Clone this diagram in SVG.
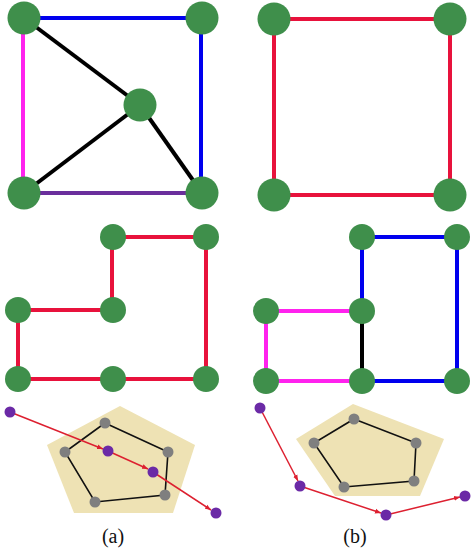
<svg xmlns="http://www.w3.org/2000/svg" width="474" height="548" viewBox="0 0 474 548">
<style>
.n{fill:#3f8f4b}
.e{stroke-width:4;fill:none}
.r{stroke:#e8123c}
.b{stroke:#0000ee}
.m{stroke:#ff22ee}
.k{stroke:#000}
.p{stroke:#6a2e9c}
.pent{fill:#eee2b4}
.poly{fill:none;stroke:#111;stroke-width:1.6}
.g{fill:#7f7f7f}
.v{fill:#6b2aa6}
.a{stroke:#dd2030;stroke-width:1.5;fill:none;marker-end:url(#ah)}
.lbl{font-family:"Liberation Serif",serif;font-size:20px;fill:#111;text-anchor:middle}
</style>
<defs>
<marker id="ah" viewBox="0 0 10 10" refX="10" refY="5" markerWidth="6" markerHeight="6" orient="auto" markerUnits="userSpaceOnUse">
<path d="M0,1 L10,5 L0,9 z" fill="#dd2030"/>
</marker>
</defs>
<rect width="474" height="548" fill="#fff"/>
<g id="connectors">
<line class="e b" x1="24" y1="18" x2="202" y2="18"/>
<line class="e b" x1="201" y1="18" x2="201" y2="193"/>
<line class="e m" x1="23" y1="18" x2="23" y2="193"/>
<line class="e p" x1="24" y1="193" x2="202" y2="193"/>
<line class="e k" x1="24" y1="18" x2="140" y2="105"/>
<line class="e k" x1="24" y1="193" x2="140" y2="105"/>
<line class="e k" x1="202" y1="193" x2="140" y2="105"/>
<line class="e r" x1="274" y1="19" x2="450" y2="19"/>
<line class="e r" x1="274" y1="19" x2="274" y2="195"/>
<line class="e r" x1="450" y1="19" x2="450" y2="195"/>
<line class="e r" x1="274" y1="195" x2="450" y2="195"/>
<line class="e r" x1="113" y1="237" x2="206" y2="237"/>
<line class="e r" x1="112" y1="237" x2="112" y2="310"/>
<line class="e r" x1="18" y1="310" x2="113" y2="310"/>
<line class="e r" x1="18" y1="310" x2="18" y2="379"/>
<line class="e r" x1="18" y1="379" x2="206" y2="379"/>
<line class="e r" x1="206" y1="237" x2="206" y2="379"/>
<line class="e b" x1="362" y1="237" x2="457" y2="237"/>
<line class="e b" x1="362" y1="237" x2="362" y2="311"/>
<line class="e b" x1="457" y1="237" x2="457" y2="381"/>
<line class="e b" x1="362" y1="381" x2="457" y2="381"/>
<line class="e m" x1="266" y1="311" x2="362" y2="311"/>
<line class="e m" x1="266" y1="311" x2="266" y2="381"/>
<line class="e m" x1="266" y1="381" x2="362" y2="381"/>
<line class="e k" x1="362" y1="311" x2="362" y2="381"/>
</g>
<g id="nodes-a-top">
<circle id="a1" class="n" cx="24" cy="18" r="16.5"/>
<circle id="a2" class="n" cx="202" cy="18" r="16.5"/>
<circle id="a3" class="n" cx="140" cy="105" r="16.5"/>
<circle id="a4" class="n" cx="24" cy="193" r="16.5"/>
<circle id="a5" class="n" cx="202" cy="193" r="16.5"/>
</g>
<g id="nodes-b-top">
<circle id="b1" class="n" cx="274" cy="19" r="16.5"/>
<circle id="b2" class="n" cx="450" cy="19" r="16.5"/>
<circle id="b3" class="n" cx="274" cy="195" r="16.5"/>
<circle id="b4" class="n" cx="450" cy="195" r="16.5"/>
</g>
<g id="nodes-a-mid">
<circle id="am1" class="n" cx="113" cy="237" r="13"/>
<circle id="am2" class="n" cx="206" cy="237" r="13"/>
<circle id="am3" class="n" cx="18" cy="310" r="13"/>
<circle id="am4" class="n" cx="113" cy="310" r="13"/>
<circle id="am5" class="n" cx="18" cy="379" r="13"/>
<circle id="am6" class="n" cx="113" cy="379" r="13"/>
<circle id="am7" class="n" cx="206" cy="379" r="13"/>
</g>
<g id="nodes-b-mid">
<circle id="bm1" class="n" cx="362" cy="237" r="13"/>
<circle id="bm2" class="n" cx="457" cy="237" r="13"/>
<circle id="bm3" class="n" cx="266" cy="311" r="13"/>
<circle id="bm4" class="n" cx="362" cy="311" r="13"/>
<circle id="bm5" class="n" cx="266" cy="381" r="13"/>
<circle id="bm6" class="n" cx="362" cy="381" r="13"/>
<circle id="bm7" class="n" cx="457" cy="381" r="13"/>
</g>
<g id="scene-a">
<polygon class="pent" points="120,406 195,445 173,513 74,513 47,445"/>
<polygon class="poly" points="105,423 168,452 165,495 95,502 65,452"/>
<circle class="g" cx="105" cy="423" r="5.5"/>
<circle class="g" cx="168" cy="452" r="5.5"/>
<circle class="g" cx="165" cy="495" r="5.5"/>
<circle class="g" cx="95" cy="502" r="5.5"/>
<circle class="g" cx="65" cy="452" r="5.5"/>
<line class="a" x1="10" y1="412" x2="103" y2="449"/>
<line class="a" x1="108" y1="451" x2="148" y2="469"/>
<line class="a" x1="153" y1="472" x2="211" y2="510"/>
<circle class="v" cx="10" cy="412" r="5.5"/>
<circle class="v" cx="108" cy="451" r="5.5"/>
<circle class="v" cx="153" cy="472" r="5.5"/>
<circle class="v" cx="216" cy="513" r="5.5"/>
<text class="lbl" x="113" y="543">(a)</text>
</g>
<g id="scene-b">
<polygon class="pent" points="353,404 444,439 420,496 335,496 296,439"/>
<polygon class="poly" points="354,419 416,443 414,481 344,487 314,443"/>
<circle class="g" cx="354" cy="419" r="5.5"/>
<circle class="g" cx="416" cy="443" r="5.5"/>
<circle class="g" cx="414" cy="481" r="5.5"/>
<circle class="g" cx="344" cy="487" r="5.5"/>
<circle class="g" cx="314" cy="443" r="5.5"/>
<line class="a" x1="260" y1="408" x2="298" y2="481"/>
<line class="a" x1="300" y1="486" x2="381" y2="513"/>
<line class="a" x1="386" y1="515" x2="460" y2="497"/>
<circle class="v" cx="260" cy="408" r="5.5"/>
<circle class="v" cx="300" cy="486" r="5.5"/>
<circle class="v" cx="386" cy="515" r="5.5"/>
<circle class="v" cx="465" cy="496" r="5.5"/>
<text class="lbl" x="355" y="543">(b)</text>
</g>
</svg>
